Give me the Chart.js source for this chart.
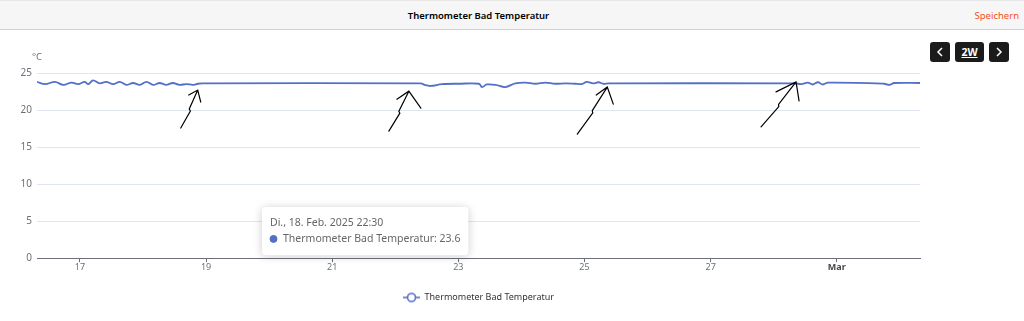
<!DOCTYPE html>
<html>
<head>
<meta charset="utf-8">
<script src="https://cdn.jsdelivr.net/npm/chart.js@4.4.1/dist/chart.umd.min.js"></script>
<style>
html,body{margin:0;padding:0;background:#fff;font-family:"Noto Sans",sans-serif;}
#wrap{position:relative;width:1024px;height:321px;overflow:hidden;}
#header{position:absolute;left:0;top:0;width:1024px;height:30px;background:#f6f6f6;border-top:1px solid #e6e6e6;border-bottom:1px solid #d2d2d2;box-sizing:border-box;}
#title{position:absolute;left:0;top:0;width:957px;line-height:30px;text-align:center;font-size:9.5px;font-weight:600;color:#000;}
#save{position:absolute;right:5px;top:0;line-height:30px;font-size:9.5px;color:#f4511e;}
#chartBox{position:absolute;left:0;top:30px;width:1024px;height:291px;}
.btn{position:absolute;top:42px;height:20px;background:#1b1b1b;border-radius:3px;color:#fff;font-size:10.5px;font-weight:700;text-align:center;line-height:20px;}
.btn svg{display:block;margin:5px auto 0 auto;}
</style>
</head>
<body>
<div id="wrap">
  <div id="header">
    <div id="title">Thermometer Bad Temperatur</div>
    <div id="save">Speichern</div>
  </div>
  <div id="chartBox"><canvas id="chart" width="1024" height="291"></canvas></div>
  <div class="btn" style="left:930px;width:20px;"><svg width="10" height="10"><polyline points="7,1 3,5 7,9" fill="none" stroke="#fff" stroke-width="1.5"/></svg></div>
  <div class="btn" style="left:955px;width:29px;"><span style="text-decoration:underline;">2W</span></div>
  <div class="btn" style="left:989px;width:20px;"><svg width="10" height="10"><polyline points="3,1 7,5 3,9" fill="none" stroke="#fff" stroke-width="1.5"/></svg></div>
</div>
<script>
const seriesName="Thermometer Bad Temperatur";
const unitLabel="°C";
const xStart="2025-02-16 07:40";
const xEnd="2025-03-02 07:40";

const times=[
    "2025-02-16 07:40","2025-02-16 10:45","2025-02-16 14:30","2025-02-16 17:40","2025-02-16 20:50","2025-02-16 23:20",
    "2025-02-17 01:50","2025-02-17 03:10","2025-02-17 05:00","2025-02-17 07:30","2025-02-17 10:00","2025-02-17 12:40",
    "2025-02-17 15:10","2025-02-17 17:40","2025-02-17 20:10","2025-02-17 22:50",
    "2025-02-18 01:20","2025-02-18 03:50","2025-02-18 06:20","2025-02-18 08:50","2025-02-18 11:20","2025-02-18 13:50",
    "2025-02-18 16:30","2025-02-18 19:00","2025-02-18 20:50","2025-02-18 22:30",
    "2025-02-22 09:40","2025-02-22 11:30","2025-02-22 13:30","2025-02-22 17:50",
    "2025-02-23 00:10","2025-02-23 07:50","2025-02-23 09:00","2025-02-23 10:50","2025-02-23 14:10","2025-02-23 17:50","2025-02-23 21:40",
    "2025-02-24 01:30","2025-02-24 05:20","2025-02-24 09:10","2025-02-24 12:50","2025-02-24 16:40","2025-02-24 20:30","2025-02-24 23:00",
    "2025-02-25 00:50","2025-02-25 03:20","2025-02-25 05:20","2025-02-25 07:10","2025-02-25 09:10",
    "2025-02-28 08:00","2025-02-28 10:30","2025-02-28 13:00","2025-02-28 14:50","2025-02-28 16:50","2025-02-28 18:40","2025-02-28 20:40",
    "2025-03-01 18:00","2025-03-01 20:00","2025-03-01 21:50","2025-03-02 07:40"
];
const temps=[
    23.8,23.5,23.8,23.4,23.7,23.5,
    23.8,23.5,24.0,23.6,23.8,23.5,
    23.8,23.4,23.65,23.4,
    23.8,23.4,23.65,23.4,23.65,23.4,
    23.5,23.4,23.55,23.6,
    23.6,23.35,23.25,23.5,
    23.55,23.55,23.1,23.45,23.4,23.1,23.6,
    23.7,23.55,23.7,23.55,23.6,23.55,23.5,
    23.8,23.6,23.75,23.55,23.6,
    23.6,23.5,23.7,23.45,23.75,23.45,23.7,
    23.55,23.4,23.65,23.65
];
const tooltipTime="2025-02-18 22:30";

const xTickDays=[17,19,21,23,25,27,29];
const xTickLabels=["17","19","21","23","25","27","Mar"];
const yTicks=[0,5,10,15,20,25];

// hand drawn arrows on the screenshot: where they point (time, value)
const arrowTimes=["2025-02-18 20:50","2025-02-22 05:10","2025-02-25 08:40","2025-02-28 08:30"];
const arrowValues=[22.7,22.55,23.1,23.8];

const weekdays=["So.","Mo.","Di.","Mi.","Do.","Fr.","Sa."];
const months=["Jan.","Feb.","März","Apr.","Mai","Juni","Juli","Aug.","Sep.","Okt.","Nov.","Dez."];

function parseTime(s){
    const [d,t]=s.split(" ");
    const [y,m,day]=d.split("-").map(Number);
    const [hh,mm]=t.split(":").map(Number);
    return new Date(Date.UTC(y,m-1,day,hh,mm));
}
// x value = day number counted from end of January (Feb 17 00:00 = 17, Mar 1 = 29)
function toDay(s){
    return (parseTime(s)-Date.UTC(2025,1,0))/86400000;
}
function fmtTitle(s){
    const d=parseTime(s);
    const p=n=>String(n).padStart(2,"0");
    return `${weekdays[d.getUTCDay()]}, ${d.getUTCDate()}. ${months[d.getUTCMonth()]} ${d.getUTCFullYear()} ${p(d.getUTCHours())}:${p(d.getUTCMinutes())}`;
}

const lineColor="#5470c6";
const axisColor="#6e7079";
const fam="'Noto Sans'";

// legend icon: line with hollow circle
const legendIcon=document.createElement("canvas");
legendIcon.width=17; legendIcon.height=12;
(function(){
    const c=legendIcon.getContext("2d");
    c.strokeStyle=lineColor; c.lineWidth=1.6;
    c.beginPath(); c.moveTo(0,6); c.lineTo(17,6); c.stroke();
    c.fillStyle="#fff";
    c.beginPath(); c.arc(8.5,6,4,0,Math.PI*2); c.fill(); c.stroke();
})();

Chart.Tooltip.positioners.fixedBox=function(){
    const a=this.chart.chartArea;
    return {x:a.left+229,y:a.top+134};
};

const extras={
    id:"extras",
    afterDraw(chart){
        const c=chart.ctx, a=chart.chartArea;
        c.save();
        c.fillStyle=axisColor;
        c.font="9.5px "+fam;
        c.textAlign="center";
        c.textBaseline="middle";
        c.fillText(unitLabel,a.left,a.top-16);
        c.restore();
    },
    afterDatasetsDraw(chart){
        const c=chart.ctx, xs=chart.scales.x, ys=chart.scales.y;
        const shapes=[
            {tail:[-17,38],l:[-9,5],r:[3,12]},
            {tail:[-20,40],l:[-12,8],r:[12,17]},
            {tail:[-30,47],l:[-11,8],r:[6,17]},
            {tail:[-35,45],l:[-20,10],r:[3,19]}
        ];
        c.save();
        c.strokeStyle="#000";
        c.lineWidth=1.2;
        c.lineCap="round";
        arrowTimes.forEach((t,i)=>{
            const x=xs.getPixelForValue(toDay(t)), y=ys.getPixelForValue(arrowValues[i]);
            const s=shapes[i];
            c.beginPath();
            c.moveTo(x+s.tail[0],y+s.tail[1]);
            c.lineTo(x+s.tail[0]*0.55+2,y+s.tail[1]*0.55);
            c.lineTo(x+s.tail[0]*0.5,y+s.tail[1]*0.5);
            c.lineTo(x,y);
            c.moveTo(x+s.l[0],y+s.l[1]);
            c.lineTo(x,y);
            c.lineTo(x+s.r[0],y+s.r[1]);
            c.stroke();
        });
        c.restore();
    },
    beforeTooltipDraw(chart,args){
        const t=args.tooltip, c=chart.ctx;
        c.save();
        c.shadowColor="rgba(0,0,0,0.2)";
        c.shadowBlur=10;
        c.shadowOffsetY=1;
        c.fillStyle="#fff";
        c.beginPath();
        c.roundRect(t.x,t.y,t.width,t.height,4);
        c.fill();
        c.restore();
    }
};

function build(){
    const points=times.map((t,i)=>({x:toDay(t),y:temps[i]}));
    const tipIndex=times.indexOf(tooltipTime);

    const chart=new Chart(document.getElementById("chart"),{
        type:"line",
        data:{datasets:[{
            label:seriesName,
            data:points,
            borderColor:lineColor,
            backgroundColor:lineColor,
            borderWidth:1.8,
            pointRadius:0,
            pointHoverRadius:0,
            tension:0.35,
            fill:false
        }]},
        options:{
            responsive:false,
            animation:false,
            events:[],
            layout:{padding:{left:0,right:104,top:43,bottom:9}},
            scales:{
                x:{
                    type:"linear",
                    min:toDay(xStart),
                    max:toDay(xEnd),
                    afterBuildTicks:s=>{s.ticks=xTickDays.map(v=>({value:v}));},
                    ticks:{
                        autoSkip:false,
                        maxRotation:0,
                        padding:0,
                        callback:(v,i)=>xTickLabels[i],
                        color:ctx=>ctx.index===xTickLabels.length-1?"#464646":axisColor,
                        font:ctx=>({family:fam,size:9,weight:ctx.index===xTickLabels.length-1?"bold":"normal"})
                    },
                    grid:{drawOnChartArea:false,drawTicks:true,tickLength:4,color:axisColor},
                    border:{display:true,color:axisColor,width:1}
                },
                y:{
                    min:0,max:25,
                    afterBuildTicks:s=>{s.ticks=yTicks.map(v=>({value:v}));},
                    afterFit:s=>{s.width=37;},
                    ticks:{color:axisColor,padding:5,font:{family:fam,size:10}},
                    grid:{color:"#e0e6f1",drawTicks:false},
                    border:{display:false}
                }
            },
            plugins:{
                legend:{
                    position:"bottom",
                    fullSize:false,
                    labels:{
                        usePointStyle:true,
                        pointStyle:legendIcon,
                        pointStyleWidth:17,
                        color:"#333",
                        padding:20,
                        font:{family:fam,size:9}
                    }
                },
                tooltip:{
                    enabled:true,
                    position:"fixedBox",
                    xAlign:"left",
                    yAlign:"top",
                    caretSize:0,
                    caretPadding:0,
                    cornerRadius:4,
                    backgroundColor:"rgba(0,0,0,0)",
                    titleColor:"#666",
                    bodyColor:"#666",
                    titleFont:{family:fam,size:10.5,weight:"normal"},
                    bodyFont:{family:fam,size:10.5},
                    titleMarginBottom:3,
                    padding:{left:8,right:8,top:10,bottom:10},
                    usePointStyle:true,
                    boxWidth:7,
                    boxHeight:7,
                    boxPadding:4,
                    callbacks:{
                        title:()=>fmtTitle(tooltipTime),
                        label:item=>`${seriesName}: ${item.parsed.y}`,
                        labelColor:()=>({borderColor:lineColor,backgroundColor:lineColor}),
                        labelPointStyle:()=>({pointStyle:"circle",rotation:0})
                    }
                }
            }
        },
        plugins:[extras]
    });

    chart.tooltip.setActiveElements([{datasetIndex:0,index:tipIndex}],{x:0,y:0});
    chart.update();
}

Promise.all([
    document.fonts.load("12px 'Noto Sans'"),
    document.fonts.load("bold 9px 'Noto Sans'")
]).then(build,build);
</script>
</body>
</html>
